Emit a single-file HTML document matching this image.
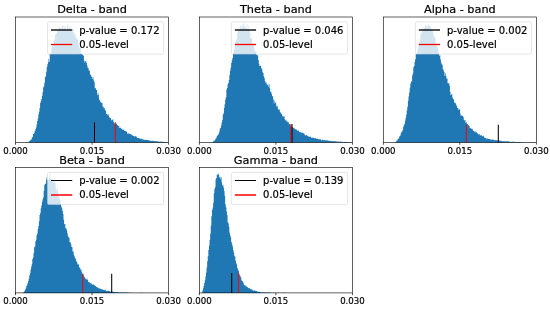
<!DOCTYPE html>
<html><head><meta charset="utf-8"><title>Band p-values</title>
<style>html,body{margin:0;padding:0;background:#fff;}body{width:550px;height:311px;overflow:hidden}svg{display:block}</style>
</head><body>
<svg width="550" height="311" viewBox="0 0 550 311" font-family="DejaVu Sans, Liberation Sans, sans-serif" stroke="#000" stroke-width="0">
<rect width="550" height="311" fill="#fff"/>
<g>
<path d="M27.50 142.40V142.40H28.10V142.22H28.70V141.47H29.30V141.12H29.90V140.48H30.50V139.68H31.10V139.42H31.70V137.86H32.30V137.04H32.90V133.96H33.50V133.99H34.10V132.77H34.70V131.03H35.30V129.35H35.90V127.46H36.50V124.55H37.10V121.08H37.70V118.58H38.30V114.19H38.90V111.79H39.50V108.09H40.10V103.07H40.70V100.88H41.30V99.07H41.90V95.88H42.50V92.17H43.10V87.30H43.70V86.55H44.30V82.70H44.90V77.13H45.50V76.09H46.10V71.84H46.70V66.93H47.30V64.36H47.90V62.28H48.50V58.73H49.10V61.78H49.70V53.29H50.30V54.26H50.90V53.32H51.50V48.06H52.10V45.36H52.70V45.37H53.30V44.58H53.90V40.81H54.50V39.09H55.10V34.65H55.70V33.96H56.30V33.20H56.90V29.98H57.50V31.05H58.10V31.31H58.70V27.72H59.30V27.08H59.90V28.06H60.50V28.74H61.10V26.59H61.70V31.43H62.30V25.41H62.90V25.72H63.50V29.65H64.10V26.49H64.70V28.39H65.30V25.21H65.90V30.42H66.50V28.40H67.10V25.50H67.70V24.82H68.30V31.13H68.90V28.28H69.50V27.03H70.10V29.10H70.70V25.50H71.30V31.17H71.90V29.05H72.50V32.48H73.10V29.05H73.70V32.83H74.30V34.80H74.90V38.62H75.50V34.07H76.10V37.21H76.70V38.72H77.30V39.59H77.90V42.49H78.50V45.73H79.10V47.56H79.70V49.12H80.30V47.07H80.90V53.31H81.50V53.42H82.10V54.49H82.70V55.11H83.30V56.03H83.90V60.38H84.50V62.58H85.10V61.34H85.70V60.93H86.30V63.12H86.90V65.44H87.50V67.74H88.10V68.34H88.70V70.64H89.30V70.61H89.90V74.44H90.50V74.63H91.10V76.48H91.70V77.09H92.30V79.05H92.90V77.43H93.50V80.42H94.10V82.01H94.70V88.23H95.30V87.68H95.90V89.73H96.50V90.07H97.10V95.29H97.70V92.90H98.30V94.81H98.90V99.25H99.50V100.47H100.10V101.79H100.70V102.30H101.30V103.04H101.90V102.89H102.50V106.52H103.10V106.76H103.70V108.55H104.30V108.10H104.90V110.17H105.50V110.59H106.10V113.85H106.70V113.92H107.30V115.33H107.90V114.05H108.50V115.60H109.10V117.19H109.70V118.03H110.30V117.93H110.90V119.61H111.50V120.46H112.10V119.95H112.70V119.02H113.30V121.79H113.90V122.63H114.50V123.68H115.10V124.36H115.70V123.53H116.30V123.83H116.90V124.97H117.50V125.25H118.10V125.89H118.70V126.35H119.30V127.95H119.90V127.67H120.50V127.74H121.10V128.77H121.70V129.01H122.30V129.67H122.90V129.82H123.50V129.57H124.10V130.79H124.70V131.11H125.30V131.02H125.90V131.58H126.50V131.45H127.10V133.91H127.70V132.73H128.30V133.80H128.90V133.83H129.50V133.82H130.10V134.02H130.70V134.35H131.30V135.07H131.90V134.69H132.50V135.83H133.10V136.03H133.70V135.90H134.30V136.74H134.90V135.89H135.50V136.62H136.10V136.43H136.70V137.53H137.30V137.90H137.90V137.92H138.50V137.93H139.10V138.59H139.70V138.44H140.30V138.75H140.90V138.40H141.50V139.28H142.10V138.91H142.70V139.57H143.30V139.79H143.90V139.84H144.50V140.09H145.10V139.82H145.70V139.69H146.30V140.02H146.90V140.00H147.50V139.84H148.10V140.27H148.70V140.37H149.30V140.56H149.90V140.94H150.50V140.47H151.10V141.11H151.70V140.64H152.30V140.86H152.90V140.68H153.50V141.00H154.10V141.21H154.70V141.04H155.30V141.27H155.90V141.26H156.50V141.27H157.10V141.36H157.70V141.42H158.30V141.58H158.90V141.53H159.50V141.89H160.10V141.62H160.70V141.83H161.30V141.54H161.90V141.57H162.50V142.06H163.10V141.83H163.70V141.91H164.30V142.07H164.90V141.93H165.50V142.08H166.10V142.25H166.70V142.15H167.30V142.17H167.90V142.16H168.50V142.40Z" fill="#1f77b4"/>
<line x1="94.5" x2="94.5" y1="122.3" y2="142.4" stroke="#000" stroke-width="1.05"/>
<line x1="115.3" x2="115.3" y1="122.3" y2="142.4" stroke="#f00" stroke-width="1.05"/>
<line x1="15.50" x2="15.50" y1="142.4" y2="144.70" stroke="#000" stroke-width="0.7"/>
<text x="15.50" y="153.55" font-size="8.6" text-anchor="middle" fill="#000" stroke-width="0.18">0.000</text>
<line x1="92.05" x2="92.05" y1="142.4" y2="144.70" stroke="#000" stroke-width="0.7"/>
<text x="92.05" y="153.55" font-size="8.6" text-anchor="middle" fill="#000" stroke-width="0.18">0.015</text>
<line x1="168.60" x2="168.60" y1="142.4" y2="144.70" stroke="#000" stroke-width="0.7"/>
<text x="168.60" y="153.55" font-size="8.6" text-anchor="middle" fill="#000" stroke-width="0.18">0.030</text>
<rect x="15.5" y="17.0" width="153.1" height="125.4" fill="none" stroke="#000" stroke-width="0.62"/>
<text x="92.05" y="13.30" font-size="11.3" text-anchor="middle" fill="#000" stroke-width="0.2">Delta - band</text>
<rect x="47.50" y="21.90" width="116.10" height="32.20" rx="1.6" fill="#fff" fill-opacity="0.8" stroke="#ccc" stroke-opacity="0.8" stroke-width="0.65"/>
<line x1="51.00" x2="72.20" y1="30.00" y2="30.00" stroke="#000" stroke-width="1.35"/>
<line x1="51.00" x2="72.20" y1="44.50" y2="44.50" stroke="#f00" stroke-width="1.3"/>
<text x="79.20" y="33.80" font-size="10.0" fill="#000" stroke-width="0.2">p-value = 0.172</text>
<text x="79.20" y="47.90" font-size="10.0" fill="#000" stroke-width="0.2">0.05-level</text>
</g>
<g>
<path d="M211.95 142.40V142.40H212.55V142.01H213.15V141.31H213.75V140.67H214.35V140.43H214.95V139.54H215.55V138.50H216.15V137.76H216.75V135.83H217.35V135.38H217.95V134.79H218.55V133.41H219.15V131.55H219.75V128.44H220.35V128.01H220.95V125.52H221.55V122.55H222.15V119.94H222.75V114.52H223.35V113.30H223.95V108.04H224.55V104.36H225.15V99.46H225.75V97.20H226.35V89.50H226.95V88.08H227.55V84.61H228.15V83.02H228.75V79.92H229.35V75.00H229.95V70.86H230.55V67.44H231.15V63.03H231.75V60.26H232.35V58.03H232.95V53.61H233.55V51.04H234.15V49.35H234.75V45.17H235.35V41.39H235.95V40.31H236.55V38.45H237.15V33.79H237.75V29.24H238.35V31.11H238.95V29.39H239.55V28.34H240.15V25.00H240.75V30.11H241.35V25.63H241.95V23.85H242.55V27.47H243.15V23.16H243.75V25.01H244.35V27.17H244.95V25.97H245.55V29.48H246.15V28.03H246.75V24.08H247.35V29.73H247.95V25.48H248.55V30.01H249.15V29.28H249.75V32.55H250.35V38.54H250.95V37.70H251.55V38.64H252.15V43.21H252.75V45.61H253.35V44.61H253.95V48.17H254.55V51.68H255.15V51.75H255.75V51.01H256.35V55.04H256.95V54.68H257.55V55.73H258.15V60.08H258.75V63.84H259.35V65.94H259.95V65.72H260.55V65.91H261.15V68.26H261.75V69.28H262.35V72.32H262.95V73.10H263.55V76.20H264.15V77.91H264.75V80.90H265.35V82.63H265.95V82.33H266.55V84.28H267.15V85.23H267.75V84.33H268.35V86.70H268.95V84.29H269.55V88.35H270.15V91.84H270.75V91.67H271.35V93.74H271.95V96.50H272.55V95.88H273.15V99.47H273.75V103.39H274.35V100.40H274.95V103.25H275.55V102.25H276.15V105.76H276.75V107.51H277.35V105.87H277.95V109.67H278.55V109.48H279.15V109.34H279.75V111.67H280.35V112.85H280.95V113.66H281.55V113.93H282.15V116.33H282.75V115.96H283.35V116.84H283.95V116.17H284.55V119.20H285.15V120.40H285.75V119.74H286.35V121.31H286.95V121.40H287.55V122.13H288.15V121.92H288.75V123.88H289.35V124.02H289.95V126.37H290.55V125.70H291.15V124.54H291.75V126.65H292.35V127.21H292.95V128.10H293.55V127.44H294.15V128.23H294.75V129.60H295.35V128.91H295.95V129.62H296.55V129.74H297.15V130.97H297.75V129.94H298.35V131.06H298.95V131.70H299.55V132.24H300.15V132.39H300.75V132.10H301.35V133.01H301.95V132.61H302.55V133.19H303.15V133.12H303.75V133.71H304.35V134.46H304.95V135.65H305.55V134.91H306.15V134.99H306.75V135.57H307.35V135.67H307.95V136.38H308.55V136.59H309.15V137.06H309.75V136.35H310.35V137.06H310.95V137.53H311.55V138.05H312.15V137.80H312.75V137.41H313.35V137.94H313.95V138.53H314.55V137.95H315.15V138.11H315.75V138.42H316.35V138.63H316.95V138.66H317.55V138.99H318.15V139.06H318.75V139.65H319.35V139.10H319.95V139.59H320.55V139.19H321.15V140.42H321.75V139.77H322.35V139.78H322.95V140.22H323.55V140.09H324.15V140.09H324.75V140.20H325.35V140.55H325.95V140.51H326.55V140.30H327.15V140.30H327.75V140.63H328.35V140.69H328.95V140.72H329.55V140.59H330.15V141.09H330.75V141.20H331.35V140.94H331.95V141.24H332.55V141.18H333.15V141.09H333.75V141.06H334.35V141.41H334.95V141.10H335.55V141.62H336.15V141.25H336.75V141.67H337.35V141.65H337.95V141.38H338.55V141.59H339.15V141.70H339.75V141.68H340.35V141.59H340.95V141.71H341.55V141.75H342.15V141.64H342.75V141.92H343.35V141.92H343.95V141.97H344.55V141.81H345.15V141.87H345.75V141.88H346.35V142.06H346.95V142.10H347.55V142.05H348.15V142.19H348.75V142.11H349.35V142.15H349.95V142.27H350.55V142.24H351.15V142.25H351.75V142.00H352.35V142.40Z" fill="#1f77b4"/>
<line x1="292.0" x2="292.0" y1="123.9" y2="142.4" stroke="#000" stroke-width="1.05"/>
<line x1="290.9" x2="290.9" y1="123.9" y2="142.4" stroke="#f00" stroke-width="1.05"/>
<line x1="199.35" x2="199.35" y1="142.4" y2="144.70" stroke="#000" stroke-width="0.7"/>
<text x="199.35" y="153.55" font-size="8.6" text-anchor="middle" fill="#000" stroke-width="0.18">0.000</text>
<line x1="275.90" x2="275.90" y1="142.4" y2="144.70" stroke="#000" stroke-width="0.7"/>
<text x="275.90" y="153.55" font-size="8.6" text-anchor="middle" fill="#000" stroke-width="0.18">0.015</text>
<line x1="352.45" x2="352.45" y1="142.4" y2="144.70" stroke="#000" stroke-width="0.7"/>
<text x="352.45" y="153.55" font-size="8.6" text-anchor="middle" fill="#000" stroke-width="0.18">0.030</text>
<rect x="199.35" y="17.0" width="153.1" height="125.4" fill="none" stroke="#000" stroke-width="0.62"/>
<text x="275.90" y="13.30" font-size="11.3" text-anchor="middle" fill="#000" stroke-width="0.2">Theta - band</text>
<rect x="231.35" y="21.90" width="116.10" height="32.20" rx="1.6" fill="#fff" fill-opacity="0.8" stroke="#ccc" stroke-opacity="0.8" stroke-width="0.65"/>
<line x1="234.85" x2="256.05" y1="30.00" y2="30.00" stroke="#000" stroke-width="1.35"/>
<line x1="234.85" x2="256.05" y1="44.50" y2="44.50" stroke="#f00" stroke-width="1.3"/>
<text x="263.05" y="33.80" font-size="10.0" fill="#000" stroke-width="0.2">p-value = 0.046</text>
<text x="263.05" y="47.90" font-size="10.0" fill="#000" stroke-width="0.2">0.05-level</text>
</g>
<g>
<path d="M394.70 142.40V142.40H395.30V142.04H395.90V141.19H396.50V140.59H397.10V140.14H397.70V138.76H398.30V138.67H398.90V137.22H399.50V136.03H400.10V135.53H400.70V133.25H401.30V131.73H401.90V131.62H402.50V130.04H403.10V126.93H403.70V125.34H404.30V123.99H404.90V120.82H405.50V117.88H406.10V114.77H406.70V110.27H407.30V106.65H407.90V100.70H408.50V96.38H409.10V92.49H409.70V87.68H410.30V83.70H410.90V81.50H411.50V81.41H412.10V75.62H412.70V73.34H413.30V67.37H413.90V65.97H414.50V61.93H415.10V59.15H415.70V54.15H416.30V53.89H416.90V52.10H417.50V48.72H418.10V47.57H418.70V44.09H419.30V41.77H419.90V38.52H420.50V32.79H421.10V34.37H421.70V31.37H422.30V30.06H422.90V27.13H423.50V29.61H424.10V28.06H424.70V26.43H425.30V25.08H425.90V26.04H426.50V26.85H427.10V27.58H427.70V25.13H428.30V23.58H428.90V25.93H429.50V26.54H430.10V26.60H430.70V29.89H431.30V29.70H431.90V30.84H432.50V31.32H433.10V33.73H433.70V37.94H434.30V36.05H434.90V37.39H435.50V43.01H436.10V43.99H436.70V46.24H437.30V47.37H437.90V53.13H438.50V50.11H439.10V55.67H439.70V55.16H440.30V59.38H440.90V62.43H441.50V64.27H442.10V64.76H442.70V69.26H443.30V70.25H443.90V72.11H444.50V75.64H445.10V73.17H445.70V76.03H446.30V78.60H446.90V78.61H447.50V83.04H448.10V83.45H448.70V82.80H449.30V85.66H449.90V91.73H450.50V95.14H451.10V94.38H451.70V93.89H452.30V97.58H452.90V98.98H453.50V99.57H454.10V102.60H454.70V102.65H455.30V103.22H455.90V104.72H456.50V105.92H457.10V108.05H457.70V108.03H458.30V110.07H458.90V109.47H459.50V109.37H460.10V113.58H460.70V115.95H461.30V115.36H461.90V115.66H462.50V116.09H463.10V117.08H463.70V119.64H464.30V120.62H464.90V119.93H465.50V122.77H466.10V122.02H466.70V123.93H467.30V124.06H467.90V124.92H468.50V125.62H469.10V126.29H469.70V128.13H470.30V127.86H470.90V128.59H471.50V128.93H472.10V128.85H472.70V130.26H473.30V130.98H473.90V131.43H474.50V131.62H475.10V131.46H475.70V132.76H476.30V132.11H476.90V132.99H477.50V133.66H478.10V134.60H478.70V134.19H479.30V134.35H479.90V135.87H480.50V134.85H481.10V135.00H481.70V135.93H482.30V136.20H482.90V135.74H483.50V136.56H484.10V137.70H484.70V137.64H485.30V137.95H485.90V138.18H486.50V139.17H487.10V138.29H487.70V138.94H488.30V138.85H488.90V139.11H489.50V138.95H490.10V139.45H490.70V139.73H491.30V139.47H491.90V139.34H492.50V139.93H493.10V139.57H493.70V139.97H494.30V140.27H494.90V139.82H495.50V140.50H496.10V140.12H496.70V140.57H497.30V140.41H497.90V140.87H498.50V140.84H499.10V140.48H499.70V140.74H500.30V140.83H500.90V140.99H501.50V140.86H502.10V141.30H502.70V141.29H503.30V141.15H503.90V141.33H504.50V141.36H505.10V141.29H505.70V141.35H506.30V141.41H506.90V141.14H507.50V141.30H508.10V141.31H508.70V141.56H509.30V141.68H509.90V141.86H510.50V141.73H511.10V142.01H511.70V141.83H512.30V141.68H512.90V141.61H513.50V141.73H514.10V141.99H514.70V141.86H515.30V142.04H515.90V141.89H516.50V142.02H517.10V141.95H517.70V141.81H518.30V142.00H518.90V141.90H519.50V142.12H520.10V142.19H520.70V142.07H521.30V142.06H521.90V142.26H522.50V142.22H523.10V142.34H523.70V142.40H524.30V142.40H524.90V142.40H525.50V142.40H526.10V142.40H526.70V142.40H527.30V142.00H527.90V142.40H528.50V142.40H529.10V142.40H529.70V142.40H530.30V142.00H530.90V142.40H531.50V142.40H532.10V142.40H532.70V142.00H533.30V142.40H533.90V142.40H534.50V142.40H535.10V142.40H535.70V142.40H536.30V142.40Z" fill="#1f77b4"/>
<line x1="498.3" x2="498.3" y1="124.7" y2="142.4" stroke="#000" stroke-width="1.05"/>
<line x1="466.3" x2="466.3" y1="124.7" y2="142.4" stroke="#f00" stroke-width="1.05"/>
<line x1="383.30" x2="383.30" y1="142.4" y2="144.70" stroke="#000" stroke-width="0.7"/>
<text x="383.30" y="153.55" font-size="8.6" text-anchor="middle" fill="#000" stroke-width="0.18">0.000</text>
<line x1="459.85" x2="459.85" y1="142.4" y2="144.70" stroke="#000" stroke-width="0.7"/>
<text x="459.85" y="153.55" font-size="8.6" text-anchor="middle" fill="#000" stroke-width="0.18">0.015</text>
<line x1="536.40" x2="536.40" y1="142.4" y2="144.70" stroke="#000" stroke-width="0.7"/>
<text x="536.40" y="153.55" font-size="8.6" text-anchor="middle" fill="#000" stroke-width="0.18">0.030</text>
<rect x="383.3" y="17.0" width="153.1" height="125.4" fill="none" stroke="#000" stroke-width="0.62"/>
<text x="459.85" y="13.30" font-size="11.3" text-anchor="middle" fill="#000" stroke-width="0.2">Alpha - band</text>
<rect x="415.30" y="21.90" width="116.10" height="32.20" rx="1.6" fill="#fff" fill-opacity="0.8" stroke="#ccc" stroke-opacity="0.8" stroke-width="0.65"/>
<line x1="418.80" x2="440.00" y1="30.00" y2="30.00" stroke="#000" stroke-width="1.35"/>
<line x1="418.80" x2="440.00" y1="44.50" y2="44.50" stroke="#f00" stroke-width="1.3"/>
<text x="447.00" y="33.80" font-size="10.0" fill="#000" stroke-width="0.2">p-value = 0.002</text>
<text x="447.00" y="47.90" font-size="10.0" fill="#000" stroke-width="0.2">0.05-level</text>
</g>
<g>
<path d="M23.30 292.90V292.25H23.90V291.64H24.50V290.58H25.10V289.50H25.70V287.80H26.30V286.01H26.90V284.83H27.50V283.06H28.10V280.95H28.70V278.54H29.30V275.16H29.90V273.11H30.50V269.60H31.10V266.83H31.70V264.21H32.30V259.10H32.90V257.45H33.50V252.66H34.10V247.20H34.70V246.39H35.30V241.43H35.90V239.86H36.50V235.26H37.10V233.56H37.70V228.98H38.30V225.90H38.90V221.25H39.50V215.12H40.10V213.00H40.70V208.36H41.30V205.51H41.90V201.96H42.50V199.21H43.10V197.29H43.70V190.67H44.30V184.74H44.90V183.97H45.50V183.47H46.10V177.69H46.70V180.14H47.30V179.52H47.90V179.95H48.50V179.07H49.10V177.56H49.70V173.42H50.30V177.70H50.90V179.57H51.50V179.27H52.10V179.19H52.70V182.71H53.30V180.30H53.90V180.42H54.50V182.49H55.10V183.58H55.70V188.73H56.30V191.35H56.90V188.11H57.50V190.49H58.10V197.07H58.70V196.20H59.30V198.68H59.90V200.09H60.50V203.04H61.10V206.70H61.70V208.23H62.30V211.04H62.90V214.17H63.50V219.74H64.10V224.31H64.70V224.07H65.30V228.22H65.90V228.31H66.50V230.09H67.10V232.86H67.70V235.71H68.30V237.14H68.90V237.77H69.50V242.15H70.10V242.12H70.70V244.35H71.30V246.78H71.90V247.26H72.50V251.50H73.10V251.39H73.70V255.09H74.30V256.54H74.90V258.41H75.50V258.44H76.10V261.35H76.70V261.89H77.30V264.50H77.90V263.93H78.50V264.70H79.10V267.51H79.70V267.62H80.30V269.76H80.90V269.62H81.50V272.34H82.10V274.62H82.70V273.27H83.30V275.36H83.90V276.84H84.50V277.37H85.10V278.76H85.70V278.49H86.30V279.74H86.90V278.77H87.50V279.90H88.10V281.88H88.70V282.32H89.30V282.30H89.90V283.56H90.50V283.05H91.10V283.49H91.70V284.33H92.30V284.65H92.90V284.56H93.50V284.54H94.10V284.92H94.70V285.97H95.30V285.96H95.90V286.99H96.50V286.82H97.10V287.69H97.70V287.31H98.30V288.35H98.90V288.51H99.50V288.40H100.10V288.45H100.70V289.37H101.30V289.27H101.90V289.26H102.50V289.43H103.10V289.95H103.70V289.85H104.30V290.13H104.90V289.82H105.50V290.22H106.10V290.88H106.70V291.24H107.30V290.79H107.90V290.66H108.50V291.04H109.10V291.01H109.70V291.43H110.30V291.72H110.90V291.39H111.50V291.62H112.10V291.60H112.70V292.05H113.30V291.85H113.90V292.05H114.50V291.88H115.10V292.17H115.70V292.23H116.30V292.28H116.90V292.07H117.50V292.30H118.10V292.44H118.70V292.51H119.30V292.55H119.90V292.28H120.50V292.68H121.10V292.59H121.70V292.46H122.30V292.43H122.90V292.59H123.50V292.52H124.10V292.55H124.70V292.55H125.30V292.65H125.90V292.54H126.50V292.67H127.10V292.59H127.70V292.80H128.30V292.66H128.90V292.83H129.50V292.90H130.10V292.90H130.70V292.90H131.30V292.50H131.90V292.90H132.50V292.90H133.10V292.90H133.70V292.90H134.30V292.90H134.90V292.90H135.50V292.90H136.10V292.90H136.70V292.90H137.30V292.90H137.90V292.90H138.50V292.90H139.10V292.90H139.70V292.90H140.30V292.90H140.90V292.50H141.50V292.90H142.10V292.90H142.70V292.90H143.30V292.90H143.90V292.90H144.50V292.90H145.10V292.90H145.70V292.90H146.30V292.90H146.90V292.90H147.50V292.90H148.10V292.90H148.70V292.90H149.30V292.90H149.90V292.90H150.50V292.90H151.10V292.90H151.70V292.90H152.30V292.90H152.90V292.90H153.50V292.90H154.10V292.90H154.70V292.90H155.30V292.90H155.90V292.90H156.50V292.90H157.10V292.90H157.70V292.90H158.30V292.90H158.90V292.90H159.50V292.90H160.10V292.90H160.70V292.90H161.30V292.90H161.90V292.90H162.50V292.90H163.10V292.90H163.70V292.90H164.30V292.90H164.90V292.90H165.50V292.90H166.10V292.90H166.70V292.90H167.30V292.90H167.90V292.90H168.50V292.90Z" fill="#1f77b4"/>
<line x1="111.7" x2="111.7" y1="273.8" y2="292.9" stroke="#000" stroke-width="1.05"/>
<line x1="82.7" x2="82.7" y1="273.8" y2="292.9" stroke="#f00" stroke-width="1.05"/>
<line x1="15.50" x2="15.50" y1="292.9" y2="295.20" stroke="#000" stroke-width="0.7"/>
<text x="15.50" y="304.05" font-size="8.6" text-anchor="middle" fill="#000" stroke-width="0.18">0.000</text>
<line x1="92.05" x2="92.05" y1="292.9" y2="295.20" stroke="#000" stroke-width="0.7"/>
<text x="92.05" y="304.05" font-size="8.6" text-anchor="middle" fill="#000" stroke-width="0.18">0.015</text>
<line x1="168.60" x2="168.60" y1="292.9" y2="295.20" stroke="#000" stroke-width="0.7"/>
<text x="168.60" y="304.05" font-size="8.6" text-anchor="middle" fill="#000" stroke-width="0.18">0.030</text>
<rect x="15.5" y="167.5" width="153.1" height="125.4" fill="none" stroke="#000" stroke-width="0.62"/>
<text x="92.05" y="163.80" font-size="11.3" text-anchor="middle" fill="#000" stroke-width="0.2">Beta - band</text>
<rect x="47.50" y="172.40" width="116.10" height="32.20" rx="1.6" fill="#fff" fill-opacity="0.8" stroke="#ccc" stroke-opacity="0.8" stroke-width="0.65"/>
<line x1="51.00" x2="72.20" y1="180.50" y2="180.50" stroke="#000" stroke-width="1.05"/>
<line x1="51.00" x2="72.20" y1="195.00" y2="195.00" stroke="#f00" stroke-width="1.5"/>
<text x="79.20" y="184.30" font-size="10.0" fill="#000" stroke-width="0.2">p-value = 0.002</text>
<text x="79.20" y="198.40" font-size="10.0" fill="#000" stroke-width="0.2">0.05-level</text>
</g>
<g>
<path d="M201.75 292.90V292.90H202.35V290.45H202.95V288.56H203.55V285.73H204.15V283.05H204.75V280.28H205.35V276.46H205.95V272.58H206.55V267.48H207.15V261.36H207.75V256.34H208.35V249.96H208.95V245.55H209.55V240.05H210.15V233.73H210.75V225.46H211.35V216.31H211.95V210.12H212.55V207.55H213.15V202.81H213.75V193.35H214.35V188.71H214.95V187.36H215.55V179.20H216.15V178.10H216.75V174.19H217.35V175.01H217.95V173.53H218.55V174.63H219.15V177.43H219.75V176.80H220.35V178.66H220.95V177.24H221.55V182.46H222.15V185.83H222.75V184.83H223.35V187.55H223.95V190.93H224.55V195.64H225.15V204.23H225.75V207.25H226.35V211.44H226.95V214.98H227.55V222.35H228.15V223.21H228.75V226.87H229.35V232.64H229.95V235.14H230.55V237.39H231.15V242.08H231.75V243.79H232.35V246.61H232.95V249.92H233.55V252.48H234.15V255.74H234.75V256.48H235.35V260.64H235.95V263.28H236.55V264.43H237.15V268.11H237.75V269.38H238.35V270.98H238.95V273.63H239.55V275.30H240.15V276.26H240.75V277.80H241.35V280.56H241.95V281.57H242.55V281.11H243.15V282.66H243.75V284.85H244.35V285.22H244.95V285.23H245.55V286.31H246.15V286.22H246.75V286.90H247.35V287.21H247.95V288.29H248.55V287.99H249.15V287.87H249.75V289.19H250.35V288.78H250.95V289.19H251.55V289.56H252.15V290.02H252.75V290.55H253.35V290.67H253.95V290.42H254.55V290.56H255.15V290.69H255.75V290.92H256.35V291.10H256.95V291.53H257.55V291.81H258.15V291.65H258.75V291.70H259.35V291.88H259.95V292.24H260.55V292.16H261.15V292.38H261.75V292.21H262.35V292.44H262.95V292.39H263.55V292.38H264.15V292.45H264.75V292.35H265.35V292.65H265.95V292.78H266.55V292.49H267.15V292.47H267.75V292.50H268.35V292.62H268.95V292.62H269.55V292.67H270.15V292.80H270.75V292.75H271.35V292.69H271.95V292.78H272.55V292.90H273.15V292.50H273.75V292.90H274.35V292.90H274.95V292.90H275.55V292.50H276.15V292.90H276.75V292.90H277.35V292.90H277.95V292.50H278.55V292.90H279.15V292.90H279.75V292.90H280.35V292.90H280.95V292.90H281.55V292.90H282.15V292.90H282.75V292.50H283.35V292.90H283.95V292.50H284.55V292.90H285.15V292.90H285.75V292.90H286.35V292.90H286.95V292.90H287.55V292.90H288.15V292.90H288.75V292.90H289.35V292.90H289.95V292.90H290.55V292.90H291.15V292.90H291.75V292.90H292.35V292.90H292.95V292.90H293.55V292.90H294.15V292.90H294.75V292.90H295.35V292.90H295.95V292.90H296.55V292.90H297.15V292.90H297.75V292.90H298.35V292.90H298.95V292.90H299.55V292.90H300.15V292.90H300.75V292.90H301.35V292.90H301.95V292.90H302.55V292.90H303.15V292.90H303.75V292.90H304.35V292.90H304.95V292.90H305.55V292.90H306.15V292.90H306.75V292.90H307.35V292.90H307.95V292.90H308.55V292.90H309.15V292.90H309.75V292.90H310.35V292.90H310.95V292.90H311.55V292.90H312.15V292.90H312.75V292.90H313.35V292.90H313.95V292.90H314.55V292.90H315.15V292.90H315.75V292.90H316.35V292.90H316.95V292.90H317.55V292.90H318.15V292.90H318.75V292.90H319.35V292.90H319.95V292.90H320.55V292.90H321.15V292.90H321.75V292.90H322.35V292.90H322.95V292.90H323.55V292.90H324.15V292.90H324.75V292.90H325.35V292.90H325.95V292.90H326.55V292.90H327.15V292.90H327.75V292.90H328.35V292.90H328.95V292.90H329.55V292.90H330.15V292.90H330.75V292.90H331.35V292.90H331.95V292.90H332.55V292.90H333.15V292.90H333.75V292.90H334.35V292.90H334.95V292.90H335.55V292.90H336.15V292.90H336.75V292.90H337.35V292.90H337.95V292.90H338.55V292.90H339.15V292.90H339.75V292.90H340.35V292.90H340.95V292.90H341.55V292.90H342.15V292.90H342.75V292.90H343.35V292.90H343.95V292.90H344.55V292.90H345.15V292.90H345.75V292.90H346.35V292.90H346.95V292.90H347.55V292.90H348.15V292.90H348.75V292.90H349.35V292.90H349.95V292.90H350.55V292.90H351.15V292.90H351.75V292.90H352.35V292.90Z" fill="#1f77b4"/>
<line x1="231.7" x2="231.7" y1="272.9" y2="292.9" stroke="#000" stroke-width="1.05"/>
<line x1="238.4" x2="238.4" y1="272.9" y2="292.9" stroke="#f00" stroke-width="1.05"/>
<line x1="199.35" x2="199.35" y1="292.9" y2="295.20" stroke="#000" stroke-width="0.7"/>
<text x="199.35" y="304.05" font-size="8.6" text-anchor="middle" fill="#000" stroke-width="0.18">0.000</text>
<line x1="275.90" x2="275.90" y1="292.9" y2="295.20" stroke="#000" stroke-width="0.7"/>
<text x="275.90" y="304.05" font-size="8.6" text-anchor="middle" fill="#000" stroke-width="0.18">0.015</text>
<line x1="352.45" x2="352.45" y1="292.9" y2="295.20" stroke="#000" stroke-width="0.7"/>
<text x="352.45" y="304.05" font-size="8.6" text-anchor="middle" fill="#000" stroke-width="0.18">0.030</text>
<rect x="199.35" y="167.5" width="153.1" height="125.4" fill="none" stroke="#000" stroke-width="0.62"/>
<text x="275.90" y="163.80" font-size="11.3" text-anchor="middle" fill="#000" stroke-width="0.2">Gamma - band</text>
<rect x="231.35" y="172.40" width="116.10" height="32.20" rx="1.6" fill="#fff" fill-opacity="0.8" stroke="#ccc" stroke-opacity="0.8" stroke-width="0.65"/>
<line x1="234.85" x2="256.05" y1="180.50" y2="180.50" stroke="#000" stroke-width="1.05"/>
<line x1="234.85" x2="256.05" y1="195.00" y2="195.00" stroke="#f00" stroke-width="1.5"/>
<text x="263.05" y="184.30" font-size="10.0" fill="#000" stroke-width="0.2">p-value = 0.139</text>
<text x="263.05" y="198.40" font-size="10.0" fill="#000" stroke-width="0.2">0.05-level</text>
</g>
</svg>
</body></html>
